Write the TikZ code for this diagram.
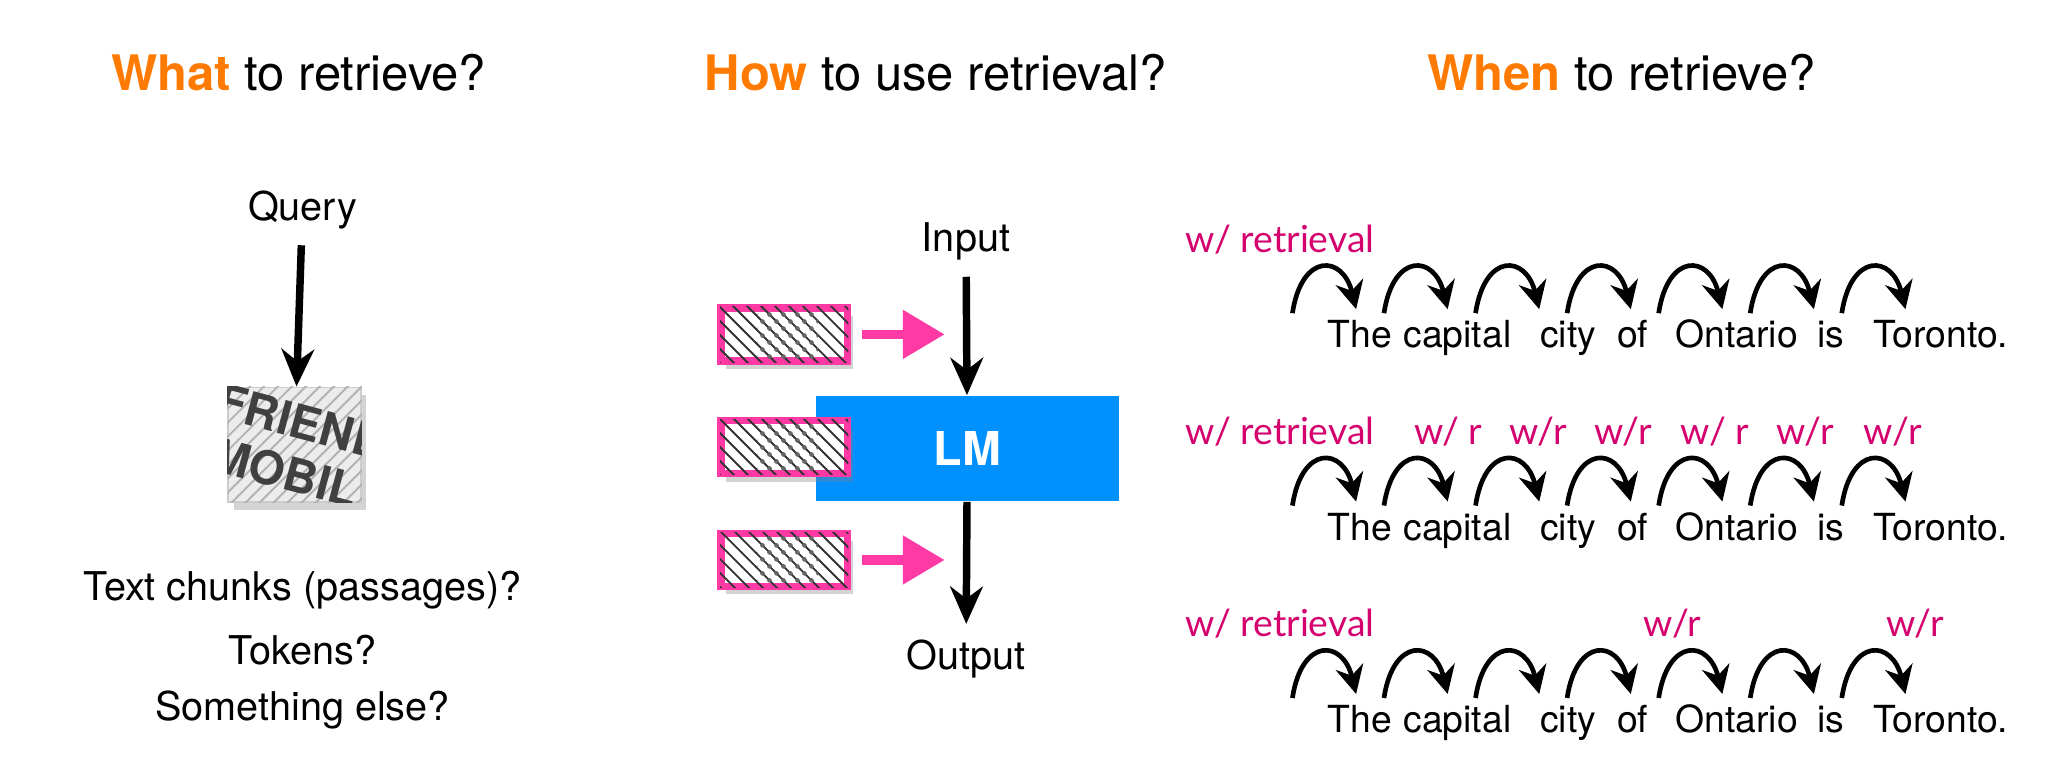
\documentclass[tikz,border=0pt]{standalone}
\usepackage{fontspec}
\setmainfont{TeX Gyre Heros}
\newfontfamily\gill{Lato}
\usetikzlibrary{arrows.meta,shadows,patterns}
\definecolor{orng}{HTML}{FF7A00}
\definecolor{mag}{HTML}{D4006E}
\definecolor{lmblue}{HTML}{0091FF}
\definecolor{pnk}{HTML}{FF3AA5}
\tikzset{
 title/.style={font=\fontsize{10.5}{12}\selectfont,anchor=center},
 lbl/.style={font=\fontsize{8.5}{10}\selectfont},
 word/.style={font=\fontsize{8}{9}\selectfont,anchor=base west,inner sep=0pt},
 ret/.style={font=\gill\fontsize{8}{9}\selectfont,text=mag,anchor=base west,inner sep=0pt},
 blk/.style={-{Stealth[length=8pt,width=7pt]},line width=1.6pt},
 pink/.style={-{Triangle[length=9pt,width=10pt]},line width=2pt,pnk},
 arc/.style={-{Stealth[length=6pt,width=6pt]},line width=1pt},
 shd/.style={drop shadow={shadow xshift=0.4mm,shadow yshift=-0.6mm,opacity=0.35}},
 doc/.style={draw=pnk,line width=1.6pt,fill=white,minimum width=0.95cm,minimum height=0.4cm,shd,inner sep=0pt},
 icon/.style={rotate=-15,font=\bfseries\fontsize{10}{10}\selectfont,text=black!75,inner sep=0pt},
}
\newcommand{\docpic}[2]{%
 \node[doc] (#1) at #2 {};
 \fill[pattern=north west lines,pattern color=black!80] ([shift={(2,-2)}]#1.south west) rectangle ([shift={(-2,2)}]#1.north east);
 \fill[pattern=crosshatch dots,pattern color=black!60] ([shift={(30,-4)}]#1.south west) rectangle ([shift={(-25,4)}]#1.north east);
}
\begin{document}
\begin{tikzpicture}[x=0.1mm,y=-0.1mm]
\useasboundingbox (0,0) rectangle (1560,585);
% titles
\node[title] (t1) at (225,55) {\textcolor{orng}{\bfseries What} to retrieve?};
\node[title] (t2) at (705,55) {\textcolor{orng}{\bfseries How} to use retrieval?};
\node[title] (t3) at (1222,55) {\textcolor{orng}{\bfseries When} to retrieve?};
% left
\node[lbl] (q) at (228,158) {Query};
\node[draw=gray!40,fill=gray!15,minimum width=1cm,minimum height=0.86cm,inner sep=0pt,shd] (img) at (222,335) {};
\begin{scope}
\clip (img.south west) rectangle (img.north east);
\fill[pattern=north east lines,pattern color=black!30] (img.south west) rectangle (img.north east);
\node[icon] (i1) at (228,318) {FRIEND};
\node[icon] (i2) at (215,356) {MOBIL};
\end{scope}
\draw[blk] (q) -- (img);
\node[lbl] (c1) at (228,445) {Text chunks (passages)?};
\node[lbl] (c2) at (228,490) {Tokens?};
\node[lbl] (c3) at (228,535) {Something else?};
% middle
\node[lbl] (in) at (728,182) {Input};
\node[fill=lmblue,minimum width=2.28cm,minimum height=0.79cm,inner sep=0pt,text=white,font=\bfseries\fontsize{10}{12}\selectfont] (lm) at (729,338) {LM};
\node[lbl] (out) at (728,497) {Output};
\draw[blk] (in) -- (lm);
\draw[blk] (lm) -- (out);
\docpic{d1}{(591,252)}
\docpic{d2}{(591,337)}
\docpic{d3}{(591,422)}
\coordinate (p1) at (712,252);
\coordinate (p3) at (712,422);
\draw[pink] ([xshift=0.8mm]d1.east) -- (p1);
\draw[pink] ([xshift=0.8mm]d3.east) -- (p3);
% right
\foreach \r/\dy in {1/0,2/145,3/290}{
 \foreach \i in {0,...,6}{
  \coordinate (s\r\i) at ({974+69*\i},{236+\dy});
  \coordinate (e\r\i) at ({1022+69*\i},{233+\dy});
  \draw[arc] (s\r\i) .. controls ({981+69*\i},{190+\dy}) and ({1012+69*\i},{192+\dy}) .. (e\r\i);
 }
 \node[word] (w\r a) at (1000,{262+\dy}) {The};
 \node[word] (w\r b) at (1057,{262+\dy}) {capital};
 \node[word] (w\r c) at (1160,{262+\dy}) {city};
 \node[word] (w\r d) at (1218,{262+\dy}) {of};
 \node[word] (w\r e) at (1262,{262+\dy}) {Ontario};
 \node[word] (w\r f) at (1369,{262+\dy}) {is};
 \node[word] (w\r g) at (1411,{262+\dy}) {Toronto.};
 \node[ret] (r\r) at (893,{190+\dy}) {w/ retrieval};
}
\node[ret] (x1) at (1065,335) {w/ r};
\node[ret] (x2) at (1137,335) {w/r};
\node[ret] (x3) at (1201,335) {w/r};
\node[ret] (x4) at (1266,335) {w/ r};
\node[ret] (x5) at (1338,335) {w/r};
\node[ret] (x6) at (1404,335) {w/r};
\node[ret] (y1) at (1238,480) {w/r};
\node[ret] (y2) at (1421,480) {w/r};
\end{tikzpicture}
\end{document}
